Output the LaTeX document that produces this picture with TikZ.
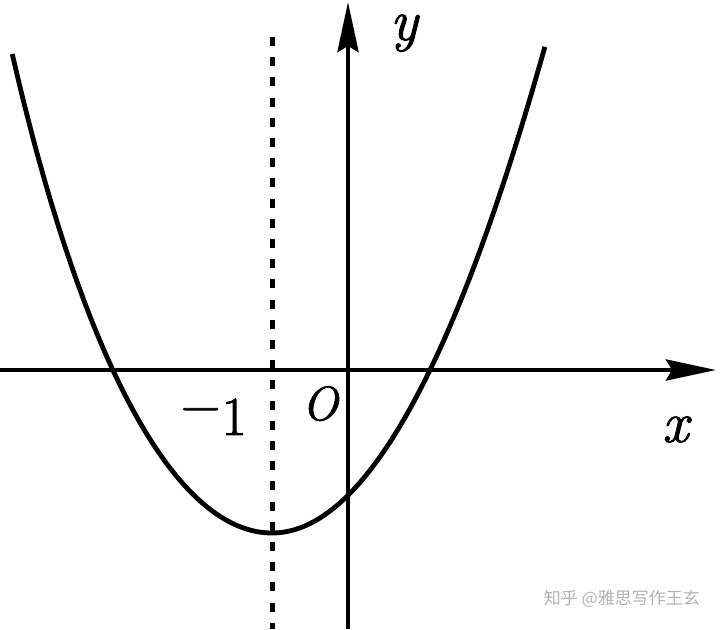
\documentclass[tikz,border=0pt]{standalone}
\usepackage{fontspec}
\newfontfamily\lab{Latin Modern Roman}[FakeBold=1.6]
\newfontfamily\cjkfont{Noto Sans CJK SC}
\usetikzlibrary{arrows.meta}
\begin{document}
\begin{tikzpicture}[x=1pt,y=-1pt,
  axis/.style={line width=4.4pt,-{Stealth[length=50pt,width=21pt,inset=6pt]}},
  curve/.style={line width=4.8pt,line join=round},
  symline/.style={line width=5pt,dash pattern=on 9pt off 11.2pt},
  labs/.style={inner sep=0pt}]
\useasboundingbox (0,0) rectangle (720,629);
\coordinate (xs) at (0,370);
\coordinate (xe) at (716,370);
\coordinate (ys) at (348,629);
\coordinate (ye) at (348,2);
\coordinate (ds) at (272,37);
\coordinate (de) at (272,629);
\draw[symline] (ds) -- (de);
\draw[axis] (xs) -- (xe);
\draw[axis] (ys) -- (ye);
\draw[curve] plot[smooth,samples=80,domain=21.886:0] ({272-12.375*\x*(1.032-0.000158*\x*\x)},{533-\x*\x})
  -- plot[smooth,samples=80,domain=0:22.05] ({272+12.375*\x},{533-\x*\x});
\node[labs,anchor=base west,text height=26pt,font=\lab\itshape\fontsize{58}{58}\selectfont] (ylab) at (390,40) {y};
\node[labs,anchor=base west,text height=26pt,font=\lab\itshape\fontsize{58}{58}\selectfont] (xlab) at (662,442) {x};
\node[labs,anchor=base,font=\lab\itshape\fontsize{48}{48}\selectfont] (olab) at (320,420) {O};
\node[labs,anchor=base east,font=\lab\fontsize{55}{55}\selectfont] (m1) at (247,435) {\raisebox{12pt}{−}\kern1pt 1};
\node[labs,anchor=east,text=black!30,font=\cjkfont\fontsize{17}{17}\selectfont] (wm) at (700,599) {知乎 @雅思写作王玄};
\end{tikzpicture}
\end{document}
